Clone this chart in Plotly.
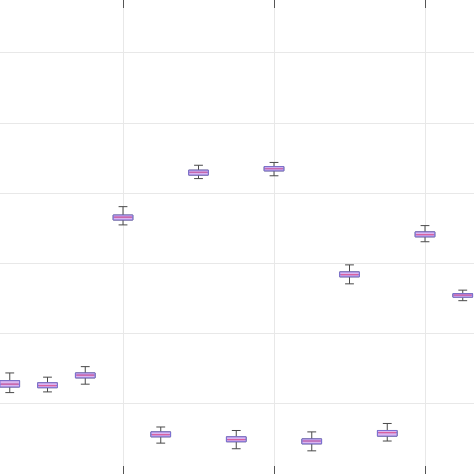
import plotly.graph_objects as go

# box positions and summary stats
positions = [0.25, 0.5, 0.75, 1.0, 1.25, 1.5, 1.75, 2.0, 2.25, 2.5, 2.75, 3.0, 3.25]
upper = [1.44, 1.38, 1.53, 3.81, 0.67, 4.40, 0.62, 4.44, 0.60, 2.98, 0.72, 3.54, 2.62]
q3 = [1.33, 1.30, 1.44, 3.69, 0.60, 4.33, 0.53, 4.38, 0.50, 2.88, 0.62, 3.45, 2.57]
median = [1.28, 1.26, 1.41, 3.66, 0.56, 4.30, 0.49, 4.35, 0.47, 2.84, 0.59, 3.41, 2.55]
q1 = [1.24, 1.23, 1.37, 3.62, 0.53, 4.26, 0.46, 4.32, 0.43, 2.81, 0.54, 3.38, 2.52]
lower = [1.16, 1.17, 1.28, 3.55, 0.44, 4.21, 0.36, 4.25, 0.33, 2.71, 0.47, 3.31, 2.47]

box_width = 0.13

fig = go.Figure()

# whiskers and caps (dark grey)
fig.add_trace(go.Box(x=positions, q1=q1, median=median, q3=q3,
                     lowerfence=lower, upperfence=upper,
                     width=box_width, whiskerwidth=0.45,
                     line=dict(color="#4a4a4a", width=1),
                     fillcolor="rgba(0,0,0,0)",
                     boxpoints=False, hoverinfo="skip"))

# box body (lavender fill, blue-purple border)
fig.add_trace(go.Box(x=positions, q1=q1, median=median, q3=q3,
                     lowerfence=q1, upperfence=q3,
                     width=box_width, whiskerwidth=0,
                     line=dict(color="#7b6fd6", width=1),
                     fillcolor="#dab6ef",
                     boxpoints=False))

# median line (pink)
fig.add_trace(go.Box(x=positions, q1=median, median=median, q3=median,
                     lowerfence=median, upperfence=median,
                     width=box_width * 0.9, whiskerwidth=0,
                     line=dict(color="#d9609f", width=1.2),
                     fillcolor="rgba(0,0,0,0)",
                     boxpoints=False, hoverinfo="skip"))

fig.update_layout(width=474, height=474,
                  margin=dict(l=0, r=0, t=0, b=0),
                  showlegend=False,
                  boxmode="overlay",
                  plot_bgcolor="white",
                  paper_bgcolor="white")

fig.update_xaxes(range=[0.1854, 3.3245],
                 dtick=1, tick0=0,
                 showgrid=True, gridcolor="#e8e8e8", gridwidth=1,
                 zeroline=False, showline=False,
                 ticks="inside", ticklen=8, tickwidth=1, tickcolor="#555555",
                 mirror="ticks", showticklabels=False)

fig.update_yaxes(range=[0.0, 6.755],
                 dtick=1, tick0=0,
                 showgrid=True, gridcolor="#e8e8e8", gridwidth=1,
                 zeroline=False, showline=False,
                 ticks="", showticklabels=False)

# drop the default page margin so the plot fills the window
fig.write_html("out.html",
               config={"displayModeBar": False},
               post_script="document.body.style.margin='0px';")
